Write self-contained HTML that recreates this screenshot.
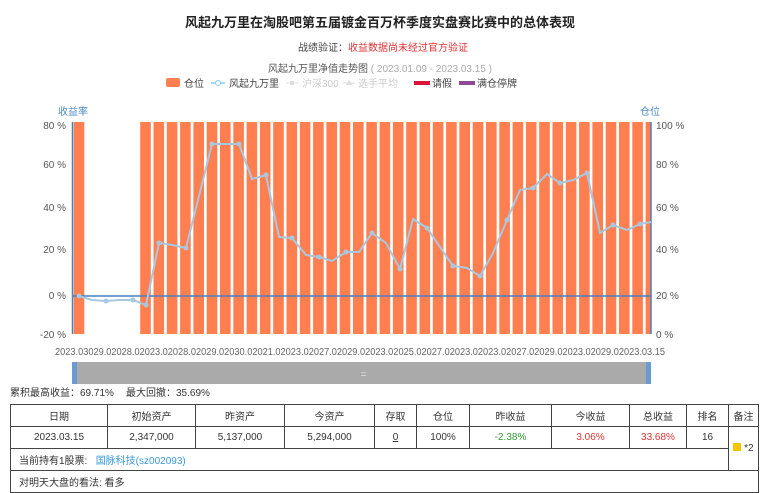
<!DOCTYPE html>
<html><head><meta charset="utf-8"><style>
body{margin:0;width:760px;height:493px;background:#fff;font-family:"Liberation Sans","Noto Sans CJK SC",sans-serif;overflow:hidden;position:relative}
svg{position:absolute;left:0;top:0}
table{position:absolute;left:10px;top:404px;width:748px;border-collapse:collapse;font-size:10px;color:#333;table-layout:fixed}
td{border:1px solid #444;text-align:center;height:21px;padding:0;white-space:nowrap;overflow:hidden}
</style></head><body>
<svg width="760" height="400" font-family="Liberation Sans, Noto Sans CJK SC, sans-serif">
<text x="380" y="27" text-anchor="middle" font-size="13" font-weight="bold" fill="#222">风起九万里在淘股吧第五届镀金百万杯季度实盘赛比赛中的总体表现</text>
<text x="298" y="51" font-size="10" fill="#444">战绩验证：</text>
<text x="348" y="51" font-size="10" fill="#d33">收益数据尚未经过官方验证</text>
<text x="380" y="72" text-anchor="middle" font-size="10" fill="#555">风起九万里净值走势图<tspan fill="#aaa"> ( 2023.01.09 - 2023.03.15 )</tspan></text>
<rect x="166" y="78" width="14" height="9" rx="2" fill="#ff7f50"/>
<text x="184" y="87" font-size="10" fill="#444">仓位</text>
<line x1="211" y1="83" x2="225" y2="83" stroke="#87cefa" stroke-width="1.5"/><circle cx="218" cy="83" r="2.5" fill="#fff" stroke="#87cefa"/>
<text x="229" y="87" font-size="10" fill="#444">风起九万里</text>
<line x1="286" y1="83" x2="298" y2="83" stroke="#ddd"/><rect x="290" y="81" width="4" height="4" fill="#ddd"/>
<text x="302" y="87" font-size="10" fill="#ccc">沪深300</text>
<line x1="343" y1="83" x2="355" y2="83" stroke="#ddd"/><path d="M349 80 L352 85 L346 85Z" fill="#ddd"/>
<text x="358" y="87" font-size="10" fill="#ccc">选手平均</text>
<rect x="414" y="81" width="16" height="4" fill="#dc143c"/>
<text x="432" y="87" font-size="10" fill="#444">请假</text>
<rect x="459" y="81" width="16" height="4" fill="#8e4b94"/>
<text x="477" y="87" font-size="10" fill="#444">满仓停牌</text>
<text x="58" y="115" font-size="10" fill="#4a8ac8">收益率</text>
<text x="640" y="115" font-size="10" fill="#4a8ac8">仓位</text>
<g font-size="10" fill="#555" text-anchor="end">
<text x="66" y="129">80 %</text><text x="66" y="168">60 %</text><text x="66" y="211">40 %</text><text x="66" y="253">20 %</text><text x="66" y="299">0 %</text><text x="66" y="338">-20 %</text>
</g>
<g font-size="10" fill="#555">
<text x="656" y="129">100 %</text><text x="656" y="168">80 %</text><text x="656" y="211">60 %</text><text x="656" y="253">40 %</text><text x="656" y="299">20 %</text><text x="656" y="338">0 %</text>
</g>
<g fill="#ff7f50" id="bars"></g>
<line x1="72" y1="296" x2="651" y2="296" stroke="#4a7fc0" stroke-width="1.5"/>
<line x1="72.5" y1="122" x2="72.5" y2="334" stroke="#4a7fc0" stroke-width="1.5"/>
<line x1="651" y1="122" x2="651" y2="334" stroke="#4a7fc0" stroke-width="1.5"/>
<polyline fill="none" stroke="#a8c8e0" stroke-width="2" points="79,296 92,300 106,301 119,300 133,300 146,305 159,243 172,245 186,248 199,196 212,144 226,144 239,144 252,179 266,175 279,237 292,238 306,255 319,257 332,261 346,252 359,252 372,233 386,243 400,269 413,219 427,228 440,247 453,266 467,268 480,276 493,253 507,220 520,190 533,188 547,174 560,183 573,180 587,173 600,233 613,225 627,230 640,224 651,222"/>
<g fill="#a8c8e0"><circle cx="79" cy="296" r="2.5"/><circle cx="106" cy="301" r="2.5"/><circle cx="133" cy="300" r="2.5"/><circle cx="146" cy="305" r="2.5"/><circle cx="159" cy="243" r="2.5"/><circle cx="186" cy="248" r="2.5"/><circle cx="212" cy="144" r="2.5"/><circle cx="239" cy="144" r="2.5"/><circle cx="266" cy="175" r="2.5"/><circle cx="292" cy="238" r="2.5"/><circle cx="319" cy="257" r="2.5"/><circle cx="346" cy="252" r="2.5"/><circle cx="372" cy="233" r="2.5"/><circle cx="400" cy="269" r="2.5"/><circle cx="427" cy="228" r="2.5"/><circle cx="453" cy="266" r="2.5"/><circle cx="480" cy="276" r="2.5"/><circle cx="507" cy="220" r="2.5"/><circle cx="533" cy="188" r="2.5"/><circle cx="560" cy="183" r="2.5"/><circle cx="587" cy="173" r="2.5"/><circle cx="613" cy="225" r="2.5"/><circle cx="640" cy="224" r="2.5"/></g>
<text x="55" y="355" font-size="10" fill="#666" textLength="610" lengthAdjust="spacingAndGlyphs">2023.03029.02028.02023.02028.02029.02030.02021.02023.02027.02029.02023.02025.02027.02023.02023.02027.02029.02023.02029.02023.03.15</text>
<rect x="72" y="362" width="579" height="22" fill="#aaa"/>
<rect x="72" y="362" width="5" height="22" fill="#6a9bd0"/><rect x="646" y="362" width="5" height="22" fill="#6a9bd0"/>
<text x="361" y="377" font-size="9" fill="#eee">=</text>
<text x="10" y="396" font-size="10" fill="#333">累积最高收益：69.71%</text>
<text x="126" y="396" font-size="10" fill="#333">最大回撤：35.69%</text>
</svg>
<script>
var g=document.getElementById('bars'),s='';
for(var k=0;k<44;k++){if(k>=1&&k<=4)continue;var c=79+13.3*k,x=Math.max(72,c-5.3),w=Math.min(c+5.3,651)-x;s+='<rect x="'+x+'" y="122" width="'+w+'" height="212"/>';}
g.innerHTML=s;
</script>
<table>
<colgroup><col style="width:97px"><col style="width:88px"><col style="width:89px"><col style="width:90px"><col style="width:42px"><col style="width:53px"><col style="width:82px"><col style="width:78px"><col style="width:57px"><col style="width:42px"><col style="width:30px"></colgroup>
<tr><td>日期</td><td>初始资产</td><td>昨资产</td><td>今资产</td><td>存取</td><td>仓位</td><td>昨收益</td><td>今收益</td><td>总收益</td><td>排名</td><td>备注</td></tr>
<tr><td>2023.03.15</td><td>2,347,000</td><td>5,137,000</td><td>5,294,000</td><td><u>0</u></td><td>100%</td><td style="color:#393">-2.38%</td><td style="color:#d33">3.06%</td><td style="color:#d33">33.68%</td><td>16</td><td rowspan="2"><span style="display:inline-block;width:8px;height:8px;background:#f5c400"></span> *2</td></tr>
<tr><td colspan="10" style="text-align:left;padding-left:8px">当前持有1股票: &nbsp; <span style="color:#3a9ad9">国脉科技(sz002093)</span></td></tr>
<tr><td colspan="11" style="text-align:left;padding-left:8px">对明天大盘的看法: 看多</td></tr>
</table>
</body></html>
